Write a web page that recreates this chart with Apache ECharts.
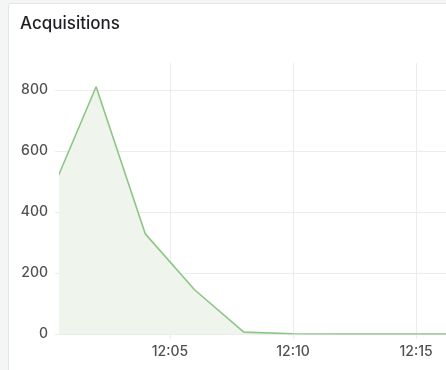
<!DOCTYPE html>
<html>
<head>
<meta charset="utf-8">
<script src="https://cdn.jsdelivr.net/npm/echarts@6/dist/echarts.min.js"></script>
<style>
  html, body { margin: 0; padding: 0; background: #f4f5f5; width: 446px; height: 370px; overflow: hidden; }
  #panel { position: absolute; left: 8px; top: 3px; width: 460px; height: 380px; background: #fff; border: 1px solid #e4e6e8; border-radius: 3px; }
  #chart { position: absolute; left: 0; top: 0; width: 446px; height: 370px; }
</style>
</head>
<body>
<div id="panel"></div>
<div id="chart"></div>
<script>
const titleText = 'Acquisitions';
const day = '2024-01-01 ';
const times = ['12:00', '12:02', '12:04', '12:06', '12:08', '12:10', '12:12', '12:14', '12:16', '12:18'];
const acquisitions = [430, 810, 328, 145, 6, 1, 0, 0, 0, 0];
const axisStart = '12:00:32';
const axisEnd = '12:16:13';
const yTicks = [0, 200, 400, 600, 800];

const chart = echarts.init(document.getElementById('chart'), null, { renderer: 'canvas' });
const ts = t => new Date(day + (t.length === 5 ? t + ':00' : t)).getTime();
const data = times.map((t, i) => [ts(t), acquisitions[i]]);

chart.setOption({
  animation: false,
  title: {
    text: titleText,
    left: 15, top: 10,
    textStyle: { fontFamily: 'Inter', fontSize: 17, fontWeight: 500, color: '#1e1f22' }
  },
  grid: { left: 60, right: 0, top: 63, bottom: 36, containLabel: false },
  xAxis: {
    type: 'time',
    min: ts(axisStart),
    max: ts(axisEnd),
    splitNumber: 3,
    axisLine: { show: false },
    axisTick: { show: true, length: 5, lineStyle: { color: '#ececec' } },
    splitLine: { show: true, showMinLine: false, showMaxLine: false, lineStyle: { color: '#ececec', width: 1 } },
    axisLabel: {
      formatter: '{HH}:{mm}',
      fontFamily: 'Inter', fontSize: 14, fontWeight: 500, color: '#505050',
      margin: 11,
      showMinLabel: false, showMaxLabel: false
    }
  },
  yAxis: {
    type: 'value',
    min: 0,
    max: 888,
    interval: 200,
    axisLine: { show: false },
    axisTick: { show: true, length: 5, lineStyle: { color: '#ececec' } },
    splitLine: { show: true, showMaxLine: false, lineStyle: { color: '#ececec', width: 1 } },
    axisLabel: {
      showMaxLabel: false,
      formatter: v => yTicks.includes(v) ? String(v) : '',
      fontFamily: 'Inter', fontSize: 14, fontWeight: 500, color: '#505050', margin: 12
    }
  },
  series: [{
    type: 'line',
    data: data,
    symbol: 'none',
    clip: true,
    lineStyle: { color: '#8cc686', width: 1.6 },
    areaStyle: { color: '#eff4ed', opacity: 1 }
  }]
});
</script>
</body>
</html>
